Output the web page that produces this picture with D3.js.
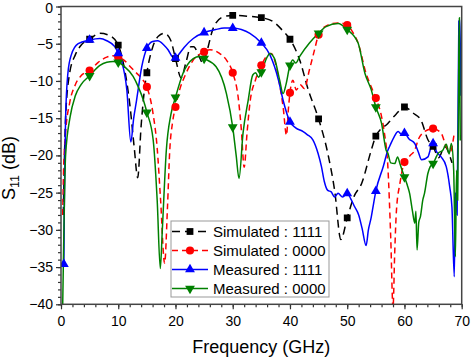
<!DOCTYPE html>
<html><head><meta charset="utf-8">
<script src="https://cdn.jsdelivr.net/npm/d3@7"></script>
<style>body{margin:0;background:#fff}svg{display:block}text{font-family:"Liberation Sans",Arial,sans-serif}</style>
</head><body><svg id="c" width="474" height="363"></svg>
<script>
// ---- data ----
const xTicks = [0,10,20,30,40,50,60,70];
const yTicks = [-40,-35,-30,-25,-20,-15,-10,-5,0];
const markerFreqs = [0.5,5,10,15,20,25,30,35,40,45,50,55,60,65];
const legendLabels = ["Simulated : 1111","Simulated : 0000","Measured : 1111","Measured : 0000"];

const sim1111 = [[0.4,-28],[0.8,-15],[1.5,-9],[2.5,-6.5],[3.5,-5.2],[5,-4.4],[6.8,-3.6],[8.5,-3.9],[10,-5.2],[11,-8],[12,-13],[12.8,-19],[13.4,-23],[14,-16],[14.6,-11],[15,-8.9],[16,-5.5],[17,-4],[18.1,-3.6],[19.2,-4.6],[20,-7],[21,-9.6],[21.8,-7.6],[22.7,-5.4],[23.2,-5.4],[24,-6.5],[24.8,-7.6],[25.5,-6],[26.6,-2.9],[28.3,-1.4],[30,-1.2],[32.5,-1.3],[35,-1.5],[37,-2],[38.8,-3.3],[40,-4.4],[41.7,-7.2],[43.2,-11.2],[45,-15.1],[46.6,-19.7],[47.8,-24.7],[48.9,-31.3],[50,-28.4],[51.2,-25.5],[52.5,-23.8],[54.2,-19.3],[55,-17.4],[57.1,-15.7],[58.5,-14.5],[60,-13.5],[61.5,-14.3],[62.9,-15.3],[64.1,-17.9],[65,-18.8],[66,-20.3],[67,-18.8],[68.3,-21]];

const sim0000 = [[0.3,-28],[0.45,-22],[0.8,-17],[1.5,-13],[2.5,-10.5],[3.5,-9.3],[5,-8.6],[6.5,-7.5],[8,-6.8],[9,-6.6],[10,-6.8],[11,-7.2],[12,-8],[13,-8.8],[14,-9.6],[15,-10.8],[16,-14],[16.8,-19],[17.4,-26],[18.1,-34.5],[18.6,-27],[19,-19.3],[19.5,-15.5],[20,-13.5],[20.8,-11],[21.6,-9.4],[23.1,-7.2],[25,-6.1],[26,-5.8],[27.7,-6.3],[29,-7.3],[30,-8.9],[31,-12.5],[31.5,-16.5],[32,-21.6],[32.5,-17],[33,-13],[34,-9.8],[35,-7.9],[36,-6.6],[36.7,-6.3],[37.4,-7.4],[38.2,-10.5],[38.8,-13.5],[39.4,-17.3],[39.7,-14],[40,-11.6],[40.5,-9.9],[41.1,-11.2],[41.8,-10.5],[42.5,-11],[43.4,-8.5],[44.3,-5.8],[45,-3.8],[46.6,-2.5],[48.5,-2.2],[50,-2.5],[51,-3.5],[51.9,-4.9],[53.3,-9],[54.3,-11],[55,-12.3],[56,-14.8],[56.5,-17],[57.1,-21.5],[57.6,-31],[58,-40.5],[58.3,-33],[58.6,-27.4],[59.2,-23.8],[60,-20.9],[61,-20],[61.8,-19.3],[62.4,-17.9],[63.5,-16.8],[65,-16.4],[66.4,-17],[67.3,-18.8],[68,-19.5],[68.7,-17]];

const meas1111 = [[0.5,-34.6],[0.6,-25],[0.8,-15],[1.2,-9],[1.8,-6.5],[3,-5],[5,-4.5],[6.8,-4.3],[8,-4.6],[9.4,-5.4],[10,-6.3],[10.6,-7.4],[11.5,-11.2],[12.2,-18.2],[12.7,-15],[13.2,-12.6],[14.1,-8.1],[15,-5.6],[16,-4.7],[16.9,-4.6],[18,-5.2],[18.7,-5.8],[19.5,-6.8],[20,-6.9],[20.5,-6.5],[21.5,-5.5],[23.1,-4.3],[25,-3.5],[27,-3.1],[28.5,-2.9],[30,-2.9],[31.5,-3.1],[33,-3.6],[35,-4.9],[36.5,-6.5],[38,-9.9],[38.8,-12.6],[40,-15.5],[41,-16.3],[42.3,-16.8],[43,-17.2],[44,-17.9],[44.9,-19.7],[45.5,-21.5],[46,-23.5],[46.6,-24.7],[47.2,-24.9],[47.8,-25.6],[48.4,-25.1],[49.2,-25.6],[50,-25.1],[50.6,-25.8],[51.3,-26.9],[52,-28],[52.6,-29.8],[53.3,-32.1],[53.7,-30],[54.2,-28.3],[54.6,-26.5],[55,-24.8],[56.3,-21.5],[57.1,-19.3],[57.4,-18.8],[58.2,-17.5],[58.9,-16.8],[59.5,-17.2],[60,-17],[60.8,-17.8],[61.8,-18.4],[62.4,-19.5],[63,-20.6],[64.1,-20.2],[64.6,-19],[65,-18.4],[65.6,-19.5],[66.4,-20.2],[67.3,-21.5],[67.9,-24.2],[68.3,-27],[68.7,-36.3],[68.9,-25],[69.2,-28],[69.5,-2],[69.7,-1.8],[69.85,-12]];

const meas0000 = [[0.3,-40],[0.55,-28],[0.8,-20],[1.6,-14.8],[2.5,-12],[3.5,-10.5],[5,-9.3],[6.8,-7.9],[8,-7.5],[9.1,-7.4],[10,-7.5],[11,-8],[12.6,-9.4],[13.5,-10.8],[14.4,-12.6],[15,-14.2],[16.1,-17.9],[16.8,-26],[17.35,-35.2],[17.7,-30],[18.4,-19.3],[19.2,-14.5],[20,-12.2],[21.3,-9],[23.1,-7],[24.2,-6.7],[25,-7],[27.1,-8.1],[28.9,-11.7],[30,-16.2],[30.6,-20],[31.1,-23.1],[31.8,-17],[32.7,-12.6],[33.5,-9.2],[34,-8.9],[34.5,-9.5],[35,-8.8],[36,-6.8],[36.5,-6.3],[37.3,-7],[38.2,-9.9],[38.8,-11.7],[39.3,-10.5],[40,-7.9],[40.5,-7.2],[41,-7.6],[41.7,-6.7],[43.4,-4.9],[45,-3.6],[46.3,-2.7],[48.4,-2.3],[50,-3.1],[51.9,-4.9],[53.1,-9],[54.2,-11.2],[55,-13.5],[56,-15.7],[56.8,-19.3],[57.1,-19.7],[57.6,-21],[58.3,-21.1],[58.8,-20.2],[59.2,-21.1],[60,-22.9],[60.5,-24],[60.9,-25.1],[61.4,-27.5],[61.8,-29.1],[62,-27.5],[62.2,-32.7],[62.5,-29],[62.8,-28.2],[63.2,-26],[63.5,-25.1],[64.1,-22.4],[64.5,-21.5],[65,-21.1],[65.5,-20.3],[65.9,-19.7],[66.7,-19.3],[67.3,-18.5],[67.8,-19.8],[68.2,-18.4],[68.6,-22],[68.9,-33.6],[69.1,-22],[69.3,-26],[69.5,-6],[69.6,-1.5],[69.75,-18]];

// ---- styles ----
const series = [
  {data: sim1111, color:"#000000", dash:"8,5", sym:d3.symbolSquare, size:46},
  {data: sim0000, color:"#ff0000", dash:"6,4", sym:d3.symbolCircle, size:52},
  {data: meas1111, color:"#0000ff", dash:null, sym:d3.symbolTriangle, size:42, rot:0},
  {data: meas0000, color:"#008000", dash:null, sym:d3.symbolTriangle, size:42, rot:180}
];

const svg = d3.select("#c");
const L=61, R=461.7, T=6.5, B=304.3;
const x = d3.scaleLinear().domain([0,70]).range([L,R]);
const y = d3.scaleLinear().domain([-40,0]).range([B,T]);

svg.append("clipPath").attr("id","clip").append("rect").attr("x",L).attr("y",T).attr("width",R-L).attr("height",B-T);

const line = d3.line().x(d=>x(d[0])).y(d=>y(d[1])).curve(d3.curveMonotoneX);
const plot = svg.append("g").attr("clip-path","url(#clip)");
series.forEach(s=>{
  plot.append("path").datum(s.data).attr("d",line).attr("fill","none")
    .attr("stroke",s.color).attr("stroke-width",1.5).attr("stroke-dasharray",s.dash);
});
series.forEach(s=>{
  const pts = s.data.filter(d=>markerFreqs.includes(d[0]));
  plot.selectAll(null).data(pts).enter().append("path")
    .attr("d",d3.symbol().type(s.sym).size(s.size))
    .attr("transform",d=>`translate(${x(d[0])},${y(d[1])}) rotate(${s.rot||0})`)
    .attr("fill",s.color);
});

// axes
const fs = 14;
const gx = svg.append("g").attr("transform",`translate(0,${B})`);
gx.call(d3.axisBottom(x).tickValues(d3.range(0,71,2)).tickSize(3).tickFormat(""));
gx.call(g=>g.selectAll(".tick line").attr("stroke","#333").attr("stroke-width",1.2));
const gx2 = svg.append("g").attr("transform",`translate(0,${B})`)
  .call(d3.axisBottom(x).tickValues(xTicks).tickSize(5).tickPadding(7));
gx2.selectAll("text").attr("font-size",fs).attr("fill","#000").style("font-family",'"Liberation Sans",Arial');
gx2.selectAll(".tick line").attr("stroke","#333").attr("stroke-width",1.2);
gx.select(".domain").remove(); gx2.select(".domain").remove();

const gy = svg.append("g").attr("transform",`translate(${L},0)`);
gy.call(d3.axisLeft(y).tickValues(d3.range(-40,1,1)).tickSize(3).tickFormat(""));
gy.selectAll(".tick line").attr("stroke","#333").attr("stroke-width",1.2);
const gy2 = svg.append("g").attr("transform",`translate(${L},0)`)
  .call(d3.axisLeft(y).tickValues(yTicks).tickSize(5).tickPadding(3));
gy2.selectAll("text").attr("font-size",fs).attr("fill","#000").style("font-family",'"Liberation Sans",Arial');
gy2.selectAll(".tick text").filter(d=>d===0).attr("y",2);
gy2.selectAll(".tick line").attr("stroke","#333").attr("stroke-width",1.2);
gy.select(".domain").remove(); gy2.select(".domain").remove();

// frame
svg.append("rect").attr("x",L).attr("y",T).attr("width",R-L).attr("height",B-T)
  .attr("fill","none").attr("stroke","#444").attr("stroke-width",1.5);

// axis titles
svg.append("text").attr("x",(L+R)/2).attr("y",353).attr("text-anchor","middle")
  .attr("font-size",18).text("Frequency (GHz)");
const yl = svg.append("text").attr("transform","translate(15,168) rotate(-90)")
  .attr("text-anchor","middle").attr("font-size",18);
yl.append("tspan").text("S");
yl.append("tspan").attr("font-size",12.5).attr("dy",4).text("11");
yl.append("tspan").attr("dy",-4).text(" (dB)");

// legend
const lg = svg.append("g");
lg.append("rect").attr("x",171).attr("y",221).attr("width",158).attr("height",76)
  .attr("fill","#fff").attr("stroke","#999").attr("stroke-width",1);
series.forEach((s,i)=>{
  const yy = 231.5 + i*19;
  lg.append("line").attr("x1",172).attr("x2",208).attr("y1",yy).attr("y2",yy)
    .attr("stroke",s.color).attr("stroke-width",1.5).attr("stroke-dasharray",s.dash);
  lg.append("path").attr("d",d3.symbol().type(s.sym).size(s.size))
    .attr("transform",`translate(190,${yy}) rotate(${s.rot||0})`).attr("fill",s.color);
  lg.append("text").attr("x",213).attr("y",yy).attr("dy","0.35em").attr("font-size",15)
    .text(legendLabels[i]);
});
</script></body></html>
